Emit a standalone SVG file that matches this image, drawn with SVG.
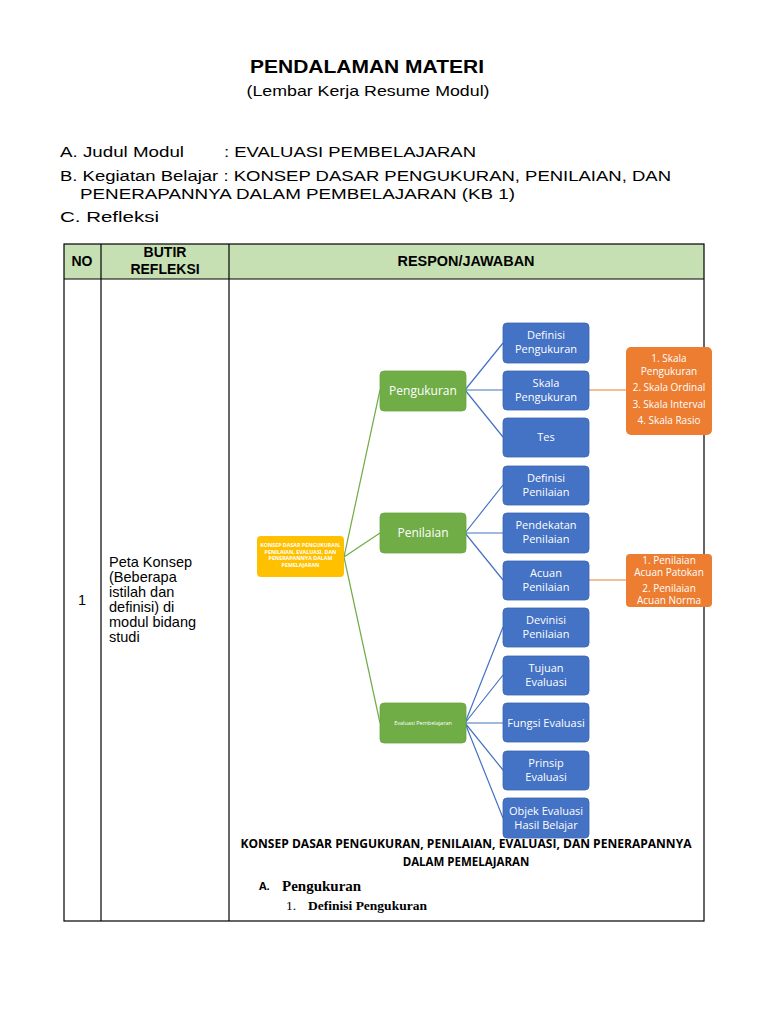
<svg xmlns="http://www.w3.org/2000/svg" width="768" height="1024" viewBox="0 0 768 1024">
<style>
.a{font-family:"Liberation Sans",Arial,sans-serif;fill:#000}
.c{font-family:"Open Sans","Noto Sans",sans-serif;fill:#fff;text-anchor:middle}
.s{font-family:"Liberation Serif","Times New Roman",serif;font-weight:bold;fill:#000}
.b{fill:#4472c4;stroke:#3a64b0;stroke-width:0.8}
.g{fill:#70ad47;stroke:#6aa443;stroke-width:0.8}
.o{fill:#ed7d31}
.gl{stroke:#70ad47;stroke-width:1.2;fill:none}
.bl{stroke:#4472c4;stroke-width:1.2;fill:none}
.ol{stroke:#ed7d31;stroke-width:1.2;fill:none}
.bt{font-size:11px}
</style>
<rect width="768" height="1024" fill="#fff"/>
<g id="header-text">
<text class="a" x="367" y="73" font-size="17.5" font-weight="bold" text-anchor="middle" textLength="234" lengthAdjust="spacingAndGlyphs">PENDALAMAN MATERI</text>
<text class="a" x="368" y="96" font-size="15" text-anchor="middle" textLength="243" lengthAdjust="spacingAndGlyphs">(Lembar Kerja Resume Modul)</text>
<text class="a" x="60" y="157" font-size="15.5" textLength="124" lengthAdjust="spacingAndGlyphs">A. Judul Modul</text>
<text class="a" x="224" y="157" font-size="15.5" textLength="252" lengthAdjust="spacingAndGlyphs">: EVALUASI PEMBELAJARAN</text>
<text class="a" x="60" y="181" font-size="15.5" textLength="611" lengthAdjust="spacingAndGlyphs">B. Kegiatan Belajar : KONSEP DASAR PENGUKURAN, PENILAIAN, DAN</text>
<text class="a" x="80" y="199" font-size="15.5" textLength="435" lengthAdjust="spacingAndGlyphs">PENERAPANNYA DALAM PEMBELAJARAN (KB 1)</text>
<text class="a" x="60" y="222" font-size="15.5" textLength="99" lengthAdjust="spacingAndGlyphs">C. Refleksi</text>
</g>
<g id="table">
<rect x="64" y="244" width="640" height="35" fill="#c6e0b4"/>
<rect x="64" y="244" width="640" height="677" fill="none" stroke="#000" stroke-width="1.2"/>
<line x1="64" y1="279" x2="704" y2="279" stroke="#000" stroke-width="1.2"/>
<line x1="101" y1="244" x2="101" y2="921" stroke="#000" stroke-width="1.2"/>
<line x1="229" y1="244" x2="229" y2="921" stroke="#000" stroke-width="1.2"/>
<text class="a" x="82" y="266" font-size="14" font-weight="bold" text-anchor="middle">NO</text>
<text class="a" x="165" y="257" font-size="14" font-weight="bold" text-anchor="middle">BUTIR</text>
<text class="a" x="165" y="274" font-size="14" font-weight="bold" text-anchor="middle">REFLEKSI</text>
<text class="a" x="466" y="266" font-size="14" font-weight="bold" text-anchor="middle" textLength="137" lengthAdjust="spacingAndGlyphs">RESPON/JAWABAN</text>
<text class="a" x="82" y="605" font-size="14.5" text-anchor="middle">1</text>
<text class="a" x="109" y="567" font-size="14.5">Peta Konsep</text>
<text class="a" x="109" y="582" font-size="14.5">(Beberapa</text>
<text class="a" x="109" y="597" font-size="14.5">istilah dan</text>
<text class="a" x="109" y="612" font-size="14.5">definisi) di</text>
<text class="a" x="109" y="627" font-size="14.5">modul bidang</text>
<text class="a" x="109" y="642" font-size="14.5">studi</text>
</g>
<g id="connectors">
<path class="gl" d="M344 557 L380 390 M344 557 L380 533 M344 557 L380 723"/>
<path class="bl" d="M465 390 L503 343 M465 390 L503 390 M465 390 L503 437"/>
<path class="bl" d="M465 533 L503 485 M465 533 L503 533 M465 533 L503 580"/>
<path class="bl" d="M465 723 L503 627 M465 723 L503 675 M465 723 L503 723 M465 723 L503 770 M465 723 L503 818"/>
<path class="ol" d="M589 390 L626 390 M589 580 L626 580"/>
</g>
<g id="root">
<rect x="257" y="536" width="87" height="41" rx="4" fill="#ffc000"/>
<text class="c" font-size="5.3" font-weight="bold"><tspan x="300.5" y="547">KONSEP DASAR PENGUKURAN,</tspan><tspan x="300.5" y="553.5">PENILAIAN, EVALUASI, DAN</tspan><tspan x="300.5" y="560">PENERAPANNYA DALAM</tspan><tspan x="300.5" y="566.5">PEMELAJARAN</tspan></text>
</g>
<g id="pengukuran"><rect class="g" x="380" y="371" width="86" height="40" rx="4"/><text class="c" x="423" y="395" font-size="12">Pengukuran</text></g>
<g id="penilaian"><rect class="g" x="380" y="513" width="86" height="40" rx="4"/><text class="c" x="423" y="537" font-size="12">Penilaian</text></g>
<g id="evaluasi"><rect class="g" x="380" y="703" width="86" height="40" rx="4"/><text class="c" x="423" y="725" font-size="5.5">Evaluasi Pembelajaran</text></g>
<g id="definisi-pengukuran"><rect class="b" x="503" y="323" width="86" height="40" rx="4"/><text class="c bt"><tspan x="546" y="339">Definisi</tspan><tspan x="546" y="353">Pengukuran</tspan></text></g>
<g id="skala-pengukuran"><rect class="b" x="503" y="371" width="86" height="39" rx="4"/><text class="c bt"><tspan x="546" y="387">Skala</tspan><tspan x="546" y="401">Pengukuran</tspan></text></g>
<g id="tes"><rect class="b" x="503" y="418" width="86" height="39" rx="4"/><text class="c bt" x="546" y="441">Tes</text></g>
<g id="definisi-penilaian"><rect class="b" x="503" y="466" width="86" height="39" rx="4"/><text class="c bt"><tspan x="546" y="482">Definisi</tspan><tspan x="546" y="496">Penilaian</tspan></text></g>
<g id="pendekatan-penilaian"><rect class="b" x="503" y="513" width="86" height="40" rx="4"/><text class="c bt"><tspan x="546" y="529">Pendekatan</tspan><tspan x="546" y="543">Penilaian</tspan></text></g>
<g id="acuan-penilaian"><rect class="b" x="503" y="561" width="86" height="39" rx="4"/><text class="c bt"><tspan x="546" y="577">Acuan</tspan><tspan x="546" y="591">Penilaian</tspan></text></g>
<g id="devinisi-penilaian"><rect class="b" x="503" y="608" width="86" height="39" rx="4"/><text class="c bt"><tspan x="546" y="624">Devinisi</tspan><tspan x="546" y="638">Penilaian</tspan></text></g>
<g id="tujuan-evaluasi"><rect class="b" x="503" y="656" width="86" height="39" rx="4"/><text class="c bt"><tspan x="546" y="672">Tujuan</tspan><tspan x="546" y="686">Evaluasi</tspan></text></g>
<g id="fungsi-evaluasi"><rect class="b" x="503" y="703" width="86" height="39" rx="4"/><text class="c bt" x="546" y="727">Fungsi Evaluasi</text></g>
<g id="prinsip-evaluasi"><rect class="b" x="503" y="751" width="86" height="39" rx="4"/><text class="c bt"><tspan x="546" y="767">Prinsip</tspan><tspan x="546" y="781">Evaluasi</tspan></text></g>
<g id="objek-evaluasi"><rect class="b" x="503" y="798" width="86" height="40" rx="4"/><text class="c bt"><tspan x="546" y="815">Objek Evaluasi</tspan><tspan x="546" y="829">Hasil Belajar</tspan></text></g>
<g id="skala-list"><rect class="o" x="626" y="347" width="86" height="88" rx="5"/><text class="c" font-size="10"><tspan x="669" y="362">1. Skala</tspan><tspan x="669" y="375">Pengukuran</tspan><tspan x="669" y="391">2. Skala Ordinal</tspan><tspan x="669" y="408">3. Skala Interval</tspan><tspan x="669" y="424">4. Skala Rasio</tspan></text></g>
<g id="acuan-list"><rect class="o" x="626" y="554" width="86" height="53" rx="4"/><text class="c" font-size="10"><tspan x="669" y="564">1. Penilaian</tspan><tspan x="669" y="576">Acuan Patokan</tspan><tspan x="669" y="592">2. Penilaian</tspan><tspan x="669" y="604">Acuan Norma</tspan></text></g>
<g id="body-text">
<text class="a" font-size="11.5" font-weight="bold" text-anchor="middle" x="466" y="848" textLength="451" lengthAdjust="spacingAndGlyphs" style="font-family:'Open Sans','Noto Sans',sans-serif">KONSEP DASAR PENGUKURAN, PENILAIAN, EVALUASI, DAN PENERAPANNYA</text>
<text class="a" font-size="11.5" font-weight="bold" text-anchor="middle" x="466" y="866" style="font-family:'Open Sans','Noto Sans',sans-serif">DALAM PEMELAJARAN</text>
<text class="a" x="259" y="890" font-size="11" font-weight="bold" style="font-family:'Open Sans','Noto Sans',sans-serif">A.</text>
<text class="s" x="282" y="891" font-size="15">Pengukuran</text>
<text class="s" x="286" y="910" font-size="13.5" style="font-weight:normal">1.</text>
<text class="s" x="308" y="910" font-size="13.5">Definisi Pengukuran</text>
</g>
</svg>
